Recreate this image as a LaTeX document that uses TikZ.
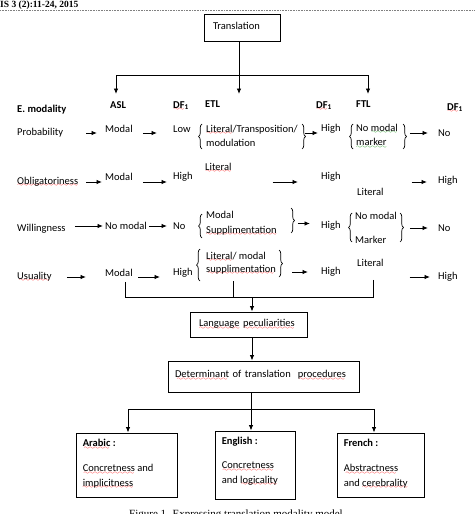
\documentclass[tikz,border=0pt]{standalone}
\usepackage{fontspec}
\setmainfont{Carlito}
\newfontfamily\serif{Liberation Serif}
\usetikzlibrary{arrows.meta,decorations.pathreplacing,positioning}
\font\wavefont=lasy6
\newcommand\waveline[2]{\setbox0\hbox{#2}\rlap{\textcolor{#1}{\lower2.6pt\hbox to \wd0{\cleaders\hbox{\wavefont\char58}\hfil}}}\box0\relax}
\newcommand\sq[1]{\waveline{red}{#1}}
\newcommand\gq[1]{\waveline{green!55!black}{#1}}

\begin{document}
\begin{tikzpicture}[x=1pt,y=-1pt,
  every node/.style={inner sep=0pt,font=\fontsize{10.5}{14.5}\selectfont},
  txt/.style={anchor=west,align=left},
  hd/.style={anchor=west,font=\fontsize{10.5}{14.5}\selectfont\bfseries},
  box/.style={draw,line width=0.9pt},
  ln/.style={line width=0.9pt},
  arr/.style={-{Latex[length=5.5pt,width=4.5pt]},line width=0.9pt},
  brc/.style={decorate,decoration={brace,amplitude=3.5pt},line width=0.7pt}]
\useasboundingbox (0,0) rectangle (474,514);
% page header
\node[anchor=base west,font=\serif\bfseries\fontsize{9.5}{11}\selectfont] (jrnl) at (0,7.5) {IS 3 (2):11-24, 2015};
\draw[gray,line width=0.5pt,dash pattern=on 0.7pt off 0.9pt] (0,10) -- (474,10);
% top box
\node[box,text width=58pt,inner xsep=9pt,minimum height=27pt,align=left] (trans) at (242,27.5) {\raisebox{3.5pt}{Translation}};
\coordinate (tbar) at (239,75);
\coordinate (tl) at (116,94);
\coordinate (tm) at (239,94);
\coordinate (tr) at (368,94);
\draw[arr] (trans.south -| tm) -- (tm);
\draw[arr] (tbar) -| (tl);
\draw[arr] (tbar) -| (tr);
% column heads
\node[hd] (hmod) at (17,110) {E. modality};
\node[hd] (hasl) at (110,105) {ASL};
\node[hd] (hdf1) at (173,106) {\sq{DF}\textsubscript{1}};
\node[hd] (hetl) at (205,104) {ETL};
\node[hd] (hdf2) at (316,106) {\sq{DF}\textsubscript{1}};
\node[hd] (hftl) at (356,104) {FTL};
\node[hd] (hdf3) at (447,108) {\sq{DF}\textsubscript{1}};
% row 1
\node[txt] (prob) at (17,133) {Probability};
\node[txt] (r1asl) at (105,129) {Modal};
\node[txt] (r1df) at (173,129) {Low};
\node[txt] (r1etl) at (206,136) {\sq{Literal}/Transposition/\\modulation};
\node[txt] (r1dfe) at (321,129) {High};
\node[txt] (r1ftl) at (356,136) {No \gq{modal}\\\gq{marker}};
\node[txt] (r1dff) at (438,133) {No};
\draw[brc] (202,149) -- (202,124);
\draw[brc] (302,124) -- (302,149);
\draw[brc] (353,149) -- (353,124);
\draw[brc] (403,124) -- (403,149);
\draw[arr,shorten <=23pt,shorten >=8pt] (prob.east) -- (prob.east -| r1asl.west);
\draw[arr,shorten <=10pt,shorten >=16pt] (r1asl.east |- prob) -- (r1df.west |- prob);
\draw[arr,shorten <=7pt,shorten >=3pt] (r1etl.east |- prob) -- (r1dfe.west |- prob);
\draw[arr,shorten <=12pt,shorten >=10pt] (r1ftl.east |- prob) -- (r1dff.west |- prob);
% row 2
\node[txt] (oblig) at (17,182) {\sq{Obligatoriness}};
\node[txt] (r2asl) at (105,177) {Modal};
\node[txt] (r2df) at (173,177) {High};
\node[txt] (r2etl) at (205,168) {\sq{Literal}};
\node[txt] (r2dfe) at (321,177) {High};
\node[txt] (r2ftl) at (357,192) {Literal};
\node[txt] (r2dff) at (438,181) {High};
\draw[arr,shorten <=8pt,shorten >=3pt] (oblig.east) -- (oblig.east -| r2asl.west);
\draw[arr,shorten <=10pt,shorten >=6pt] (r2asl.east |- oblig) -- (r2df.west |- oblig);
\draw[arr,shorten <=41pt,shorten >=23pt] (r2etl.east |- oblig) -- (r2dfe.west |- oblig);
\draw[arr,shorten <=28pt,shorten >=11pt] (r2ftl.east |- oblig) -- (r2dff.west |- oblig);
% row 3
\node[txt] (will) at (17,229) {Willingness};
\node[txt] (r3asl) at (105,226) {No modal};
\node[txt] (r3df) at (173,226) {No};
\node[txt] (r3etl) at (206,223.5) {Modal\\\sq{Supplimentation}};
\node[txt] (r3dfe) at (321,226) {High};
\node[txt] (r3ftl) at (355,228) {No modal\\[9.5pt]Marker};
\node[txt] (r3dff) at (438,228) {No};
\draw[brc] (202,238) -- (202,214);
\draw[brc] (291,208) -- (291,233);
\draw[brc] (352,242) -- (352,213);
\draw[brc] (400,213) -- (400,242);
\draw[arr,shorten <=9pt,shorten >=2pt] (will.east |- r3asl) -- (r3asl.west);
\draw[arr,shorten <=2pt,shorten >=6pt] (r3asl.east) -- (r3df.west);
\draw[arr,shorten <=21pt,shorten >=11pt] (r3etl.east) -- (r3etl.east -| r3dfe.west);
\draw[arr,shorten <=13pt,shorten >=10pt] (r3ftl.east) -- (r3ftl.east -| r3dff.west);
% row 4
\node[txt] (usual) at (17,277) {\sq{Usuality}};
\node[txt] (r4asl) at (105,273) {Modal};
\node[txt] (r4df) at (173,273) {High};
\node[txt] (r4etl) at (206,263.5) {\sq{Literal}/ modal\\[-1.5pt]\sq{supplimentation}};
\node[txt] (r4dfe) at (321,272) {High};
\node[txt] (r4ftl) at (357,263) {Literal};
\node[txt] (r4dff) at (438,277) {High};
\draw[brc] (200,281) -- (200,249);
\draw[brc] (279,250) -- (279,277);
\draw[arr,shorten <=15pt,shorten >=19pt] (usual.east) -- (usual.east -| r4asl.west);
\draw[arr,shorten <=5.5pt,shorten >=13pt] (r4asl.east |- usual) -- (r4df.west |- usual);
\draw[arr,shorten <=16pt,shorten >=13pt] (r4dfe.west -| r4etl.east) -- (r4dfe.west);
\draw[arr,shorten <=26pt,shorten >=8pt] (r4ftl.east |- usual) -- (r4dff.west |- usual);
% gathering lines
\coordinate (jn) at (252,297);
\draw[ln,shorten <=5pt] ([xshift=7pt]r4asl.south) |- (jn);
\draw[ln,shorten <=13pt] ([xshift=3.5pt]r4ftl.south) |- (jn);
\draw[ln,shorten <=6pt] ([xshift=-7.5pt]r4etl.south) -- ([xshift=-7.5pt]r4etl.south |- jn);
% lower boxes
\node[box,text width=99pt,inner xsep=9pt,minimum height=25pt,align=left] (lang) at (248.5,324.5) {\raisebox{2.5pt}{\sq{Language} \sq{peculiarities}}};
\node[box,text width=177pt,inner xsep=7pt,minimum height=31pt,align=left] (det) at (263.5,376.5) {\raisebox{5.5pt}{\sq{Determinant} of translation\ \ \sq{procedures}}};
\draw[arr] (jn) -- (jn |- lang.north);
\draw[arr] ([xshift=3.5pt]lang.south) -- ([xshift=3.5pt]lang.south |- det.north);
\node[box,minimum width=101pt,minimum height=64pt] (arab) at (126.5,465) {};
\node[box,minimum width=80pt,minimum height=68pt] (eng) at (255,465) {};
\node[box,minimum width=87pt,minimum height=64pt] (fren) at (380.5,465) {};
\node[txt,below right=6.5pt and 7pt of arab.north west] (arabt) {\textbf{\sq{Arabic} :}\\[10.5pt]\sq{Concretness} and\\\sq{implicitness}};
\node[txt,below right=6.5pt and 7pt of eng.north west] (engt) {\textbf{English :}\\[9.5pt]\sq{Concretness}\\and \sq{logicality}};
\node[txt,below right=6.5pt and 7pt of fren.north west] (frent) {\textbf{French :}\\[10.5pt]\sq{Abstractness}\\and \sq{cerebrality}};
\coordinate (jb) at (251,409);
\draw[arr] (det.south -| jb) -- (jb |- eng.north);
\draw[arr] (jb) -| ([xshift=1.5pt]arab.north);
\draw[arr] (jb) -| ([xshift=-6.5pt]fren.north);
% caption
\node[anchor=base,font=\serif\fontsize{11}{13}\selectfont] (capt) at (236,517) {Figure 1. Expressing translation modality model};
\end{tikzpicture}
\end{document}
